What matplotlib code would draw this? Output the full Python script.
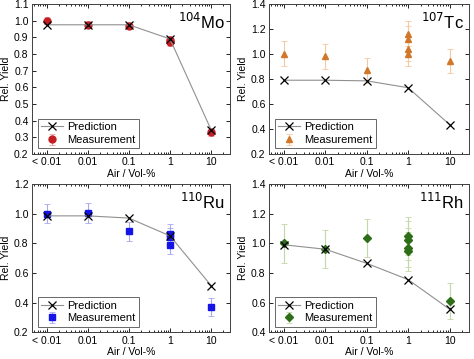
import numpy as np
import matplotlib
matplotlib.use("Agg")
import matplotlib.pyplot as plt

# x positions: "< 0.01" is placed one decade below 0.01
air = [0.001, 0.01, 0.1, 1, 10]
xlabels = ["< 0.01", "0.01", "0.1", "1", "10"]

mo_pred = [0.975, 0.975, 0.975, 0.89, 0.345]
mo_x = [0.001, 0.01, 0.1, 1, 1, 10]
mo_y = [1.0, 0.975, 0.97, 0.885, 0.87, 0.33]
mo_err = [0.02, 0.02, 0.02, 0.025, 0.02, 0.02]

tc_pred = [0.79, 0.79, 0.785, 0.73, 0.435]
tc_x = [0.001, 0.01, 0.1, 1, 1, 1, 1, 10]
tc_y = [1.0, 0.98, 0.87, 1.0, 1.04, 1.12, 1.16, 0.945]
tc_err = [0.1, 0.1, 0.1, 0.1, 0.1, 0.1, 0.1, 0.095]

ru_pred = [0.985, 0.985, 0.97, 0.85, 0.515]
ru_x = [0.001, 0.01, 0.1, 1, 1, 1, 10]
ru_y = [1.0, 1.005, 0.88, 0.865, 0.84, 0.79, 0.37]
ru_err = [0.065, 0.065, 0.065, 0.065, 0.065, 0.065, 0.06]

rh_pred = [0.99, 0.96, 0.865, 0.755, 0.555]
rh_x = [0.001, 0.01, 0.1, 1, 1, 1, 1, 10]
rh_y = [1.0, 0.96, 1.035, 1.05, 1.02, 0.97, 0.945, 0.61]
rh_err = [0.13, 0.13, 0.13, 0.13, 0.13, 0.13, 0.13, 0.12]

panels = [
    ("104", "Mo", mo_pred, mo_x, mo_y, mo_err, "#c41e24", "#f0a0a0", "o", (0.2, 1.1), 0.1),
    ("107", "Tc", tc_pred, tc_x, tc_y, tc_err, "#d2772a", "#f2c9a0", "^", (0.2, 1.4), 0.2),
    ("110", "Ru", ru_pred, ru_x, ru_y, ru_err, "#1414e6", "#a8a8f0", "s", (0.2, 1.2), 0.2),
    ("111", "Rh", rh_pred, rh_x, rh_y, rh_err, "#2e6e18", "#c2d8a8", "D", (0.4, 1.4), 0.2),
]

fig = plt.figure(figsize=(4.74, 3.59), dpi=100)
plt.rcParams['font.family'] = ['Liberation Sans', 'DejaVu Sans']

boxes = [
    [0.0675, 0.571, 0.418, 0.418],
    [0.5675, 0.571, 0.4215, 0.418],
    [0.0675, 0.0745, 0.418, 0.413],
    [0.5675, 0.0745, 0.4215, 0.413],
]

for box, (mass, el, pred, mx, my, merr, col, ecol, mk, ylim, step) in zip(boxes, panels):
    ax = fig.add_axes(box)
    ax.set_xscale("log")
    ax.plot(air, pred, color="#909090", lw=0.8, marker="x", mec="black",
            mew=0.9, ms=5.5, label="Prediction", zorder=3)
    ax.errorbar(mx, my, yerr=merr, fmt=mk, color=col, ecolor=ecol, elinewidth=0.8,
                capsize=2, capthick=0.6, ms=5 if mk != "D" else 4.5, mec=col,
                label="Measurement", zorder=2)
    ax.set_xlim(4.4e-4, 29)
    ax.set_ylim(*ylim)
    ax.set_yticks(np.round(np.arange(ylim[0], ylim[1] + 1e-9, step), 2))
    ax.yaxis.set_major_formatter(plt.FormatStrFormatter("%.1f"))
    ax.set_xticks(air)
    ax.set_xticklabels(xlabels)
    ax.tick_params(which="both", direction="in", top=True, right=True, labelsize=7.5,
                   length=3, width=0.6, pad=2.5)
    ax.tick_params(which="minor", length=1.5)
    for s in ax.spines.values():
        s.set_linewidth(0.7)
        s.set_color("#404040")
    ax.set_xlabel("Air / Vol-%", fontsize=7.5, labelpad=1)
    ax.set_ylabel("Rel. Yield", fontsize=7.5, labelpad=2)
    ax.text(0.975, 0.95, r"$^{%s}$%s" % (mass, el), transform=ax.transAxes,
            ha="right", va="top", fontsize=12)
    leg = ax.legend(loc="lower left", fontsize=8, frameon=True, fancybox=False,
                    borderpad=0.3, handlelength=2, handletextpad=0.4, labelspacing=0.25,
                    borderaxespad=0.5)
    leg.get_frame().set_edgecolor("#404040")
    leg.get_frame().set_linewidth(0.7)

fig.savefig("out.png", dpi=100)
